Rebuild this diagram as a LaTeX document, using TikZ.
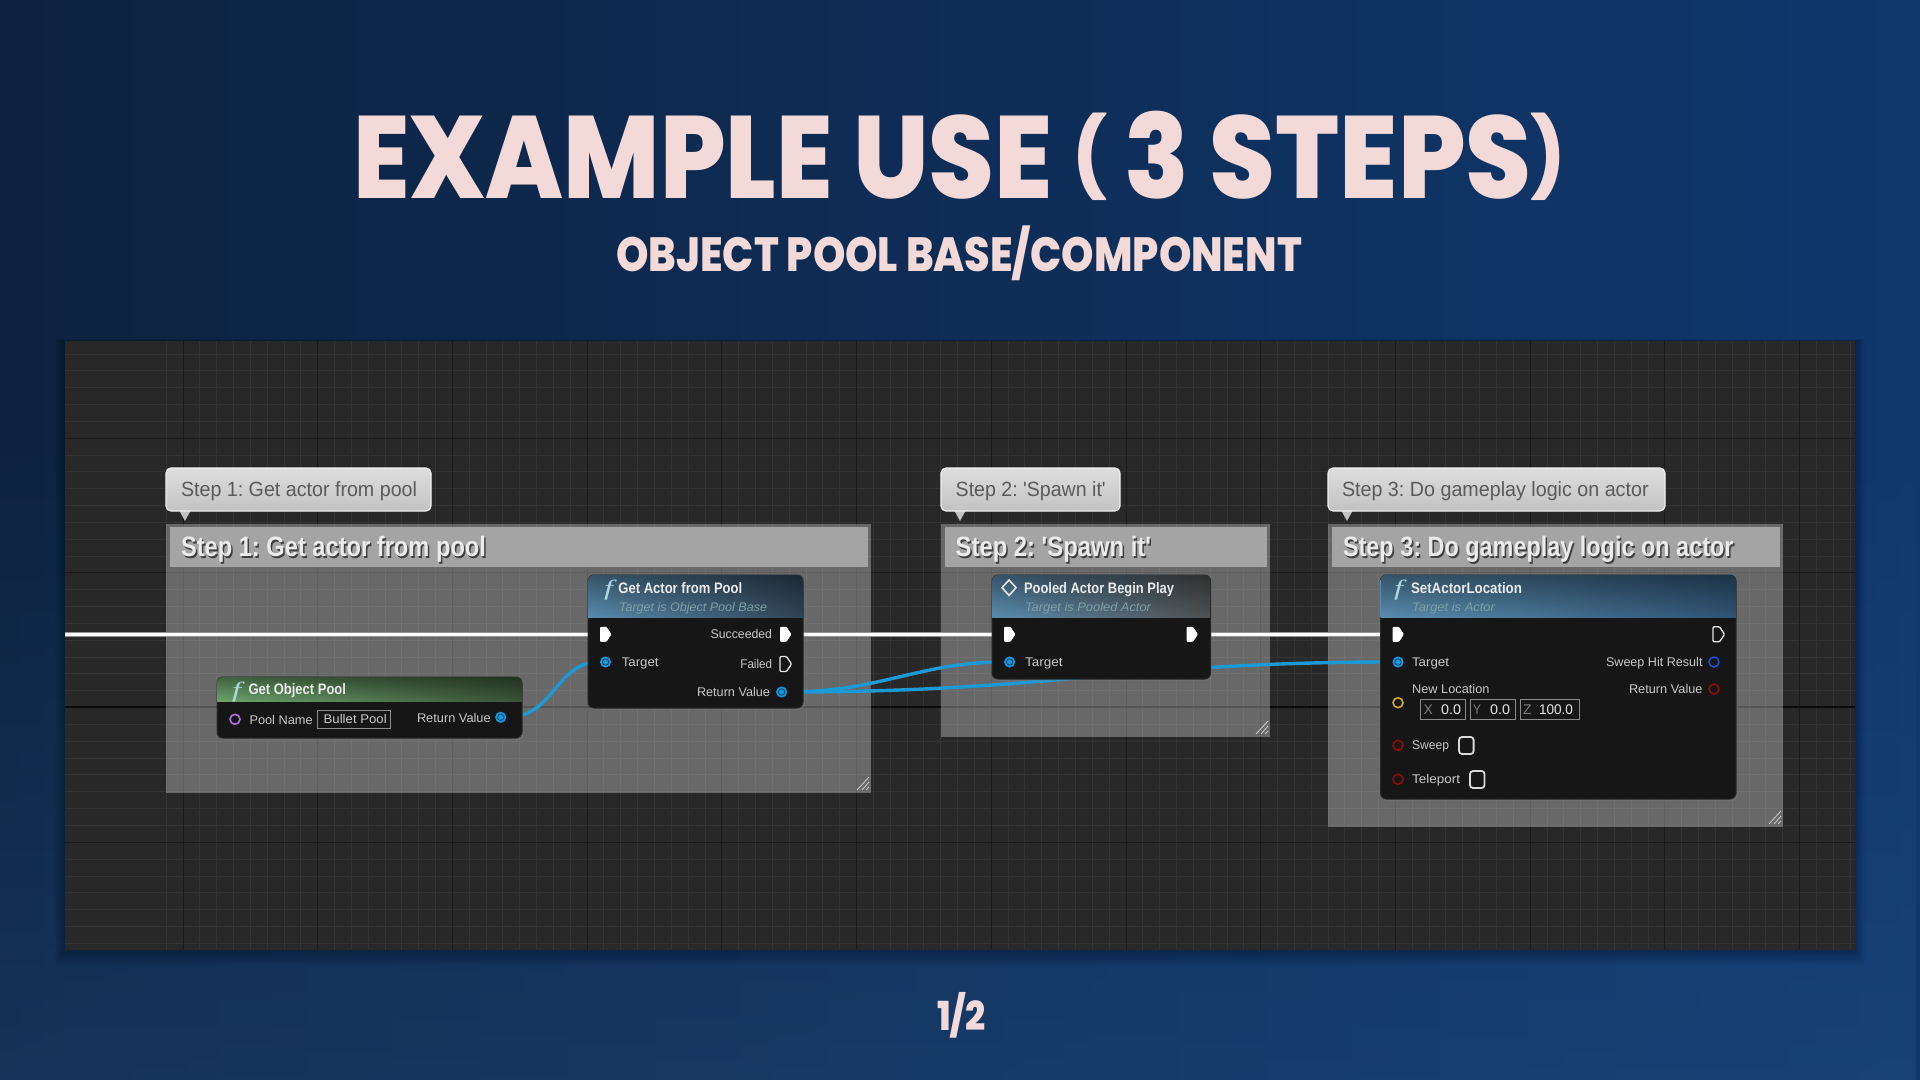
\documentclass[tikz,border=0pt]{standalone}
\usepackage{fontspec}
\usepackage{graphicx}
\usetikzlibrary{fit,fadings,shadows,calc}
\newfontfamily\uef{Liberation Sans}
\newfontfamily\ptf{Poppins}[UprightFont=* ExtraBold,BoldFont=* ExtraBold]
\newfontfamily\icf{Liberation Serif}
\newdimen\pxu \pxu=0.5pt
\definecolor{titlepink}{HTML}{F3DAD8}
\definecolor{bgA}{HTML}{0D2240}
\definecolor{bgB}{HTML}{0F386E}
\definecolor{bgC}{HTML}{2A5A90}
\definecolor{panelc}{HTML}{282828}
\definecolor{minorc}{HTML}{333333}
\definecolor{majorc}{HTML}{1A1A1A}
\definecolor{originc}{HTML}{0C0C0C}
\definecolor{bodyc}{HTML}{161616}
\definecolor{barc}{HTML}{A4A4A4}
\definecolor{pinblue}{HTML}{1496DC}
\definecolor{wireblue}{HTML}{1C9AD6}
\definecolor{pinpurple}{HTML}{B070E0}
\definecolor{pinyellow}{HTML}{D8A81C}
\definecolor{pinred}{HTML}{8A0E0E}
\definecolor{pindeep}{HTML}{1450C8}
\definecolor{labelc}{HTML}{C8C8C8}
\definecolor{subc}{HTML}{7F9FA6}
\definecolor{bubtxt}{HTML}{5A5A5A}
\definecolor{hgreenL}{HTML}{6CA46C}
\definecolor{hgreenR}{HTML}{3A5238}
\definecolor{hblueL}{HTML}{5A8CAE}
\definecolor{hblueR}{HTML}{304456}
\definecolor{hgreyR}{HTML}{505050}
\definecolor{hsetR}{HTML}{305474}
\tikzset{
  bigtitle/.style={font=\ptf\fontsize{58.5}{70}\selectfont,text=titlepink},
  subtitle/.style={font=\ptf\fontsize{24}{28}\selectfont,text=titlepink},
  pagenum/.style={font=\ptf\fontsize{20}{24}\selectfont,text=titlepink},
  bubtext/.style={font=\uef\fontsize{10.3}{12}\selectfont,text=bubtxt},
  bartext/.style={font=\uef\bfseries\fontsize{14}{16}\selectfont,text=white!92!black},
  barshadow/.style={font=\uef\bfseries\fontsize{14}{16}\selectfont,text=black!75},
  bptitle/.style={font=\uef\bfseries\fontsize{7.6}{9}\selectfont,text=white!92!black},
  bpsub/.style={font=\uef\itshape\fontsize{6.2}{7}\selectfont,text=subc},
  bplabel/.style={font=\uef\fontsize{6.3}{7}\selectfont,text=labelc},
  valtext/.style={font=\uef\fontsize{7}{8}\selectfont,text=white!90!black},
  axistext/.style={font=\uef\fontsize{7}{8}\selectfont,text=white!50!black},
  icontext/.style={font=\icf\itshape\fontsize{11}{12}\selectfont,text=white!72!cyan!90!black},
  txtnode/.style={inner sep=0,outer sep=0,anchor=base west},
  boxfit/.style={inner sep=0,outer sep=0},
  bubble/.style={boxfit,top color=white!87!black,bottom color=white!76!black,draw=white!94!black,line width=.6pt,rounded corners=2.5pt},
  groupbox/.style={boxfit,fill=white,fill opacity=.3},
  barbox/.style={boxfit,fill=barc},
  bpbody/.style={boxfit,fill=bodyc,draw=black!85,line width=.5pt,rounded corners=3pt,drop shadow={shadow xshift=.8pt,shadow yshift=-1.2pt,opacity=.3}},
  valbox/.style={boxfit,draw=white!55!black,line width=.5pt},
  checkbox/.style={boxfit,draw=white!85!black,line width=.9pt,rounded corners=1.5pt,fill=bodyc},
  blwire/.style={draw=wireblue,line width=1.7pt,line cap=round},
  exwire/.style={draw=white!58!black,line width=.45pt,double=white,double distance=1.8pt},
  handle/.style={draw=white!78!black,line width=.45pt},
  holopin/.style={circle,inner sep=0,minimum size=5pt,line width=.8pt,fill=bodyc},
}
\newcommand\tx[6]{\node[txtnode,#5] (#1) at (#2,#3) {\frenchspacing\resizebox{#4\pxu}{\height}{#6}};}
\newcommand\smp[1]{\raisebox{7.5pt}{\fontsize{39}{44}\selectfont #1}}
\newcommand\dpin[3]{%
  \node[circle,inner sep=0,minimum size=5.6pt,fill=pinblue,draw=none] (#1) at (#2,#3) {};
  \draw[black!60!pinblue,line width=.35pt] (#2,#3) circle[radius=3.2];}
\newcommand\expin[3]{%
  \coordinate (#1) at (#2,#3);
  \fill[white,rounded corners=.5pt,shift={(#2,#3)}] (-5.5,-7.5)--(1,-7.5)--(6,0)--(1,7.5)--(-5.5,7.5)--cycle;}
\newcommand\exhollow[3]{%
  \coordinate (#1) at (#2,#3);
  \draw[white!90!black,line width=.65pt,rounded corners=.5pt,fill=bodyc,shift={(#2,#3)}] (-5.5,-7.5)--(1,-7.5)--(6,0)--(1,7.5)--(-5.5,7.5)--cycle;}
\newcommand\bpnode[8]{%
  \node[bpbody,fit={(#2,#3)(#4,#5)}] (#1) {};
  \begin{scope}
    \clip[rounded corners=3pt] (#2,#3) rectangle (#4,#5);
    \shade[left color=#7,right color=#8] (#2,#3) rectangle (#4,#6);
    \fill[black,opacity=.4,path fading=south] (#2,#3) rectangle (#4,#6);
  \end{scope}}
\newcommand\grp[7]{%
  \begin{pgfonlayer}{grp}
  \node[groupbox,fit={(#2,#3)(#4,#5)}] (#1) {};
  \node[barbox,fit={(#2+3.5,#3+2.7)(#4-3.5,#3+42.7)}] (#1bar) {};
  \end{pgfonlayer}
  \draw[handle] (#4-14,#5-3)--(#4-2,#5-16) (#4-9,#5-3)--(#4-2,#5-11) (#4-5,#5-3)--(#4-2,#5-6);}
\newcommand\bub[6]{%
  \fill[white!76!black] (#2+13,#5-1)--(#2+25,#5-1)--(#2+19,#5+10)--cycle;
  \node[bubble,fit={(#2,#3)(#4,#5)}] (#1) {};}
\pgfdeclarelayer{grp}\pgfdeclarelayer{wire}
\pgfsetlayers{grp,wire,main}
\begin{document}
\begin{tikzpicture}[x=0.5pt,y=-0.5pt]
\useasboundingbox (0,0) rectangle (1920,1080);
\begin{pgfonlayer}{grp}
% page background
\shade[shading angle=80,left color=bgA,right color=bgB] (0,0) rectangle (1920,1080);
\fill[bgC,opacity=.3,path fading=north] (0,420) rectangle (1920,1080);
% panel shadow
\foreach \i in {1,...,10}{\fill[black,opacity=.025] (65-1*\i,341-.2*\i) rectangle (1855+1*\i,950+1.6*\i);}
\node[boxfit,fill=panelc,fit={(65,341)(1855,950)}] (panel) {};
\begin{scope}
\clip (65,341) rectangle (1855,950);
\foreach \i in {-1,...,106}{\draw[minorc,line width=.5pt] ({round(182.5+\i*16.84)+.5},341)--({round(182.5+\i*16.84)+.5},950);}
\foreach \i in {-6,...,31}{\draw[minorc,line width=.5pt] (65,{round(437.7+\i*16.84)+.5})--(1855,{round(437.7+\i*16.84)+.5});}
\foreach \i in {0,...,13}{\draw[majorc,line width=.8pt] ({round(182.5+\i*134.72)+.5},341)--({round(182.5+\i*134.72)+.5},950);}
\foreach \i in {0,...,3}{\draw[majorc,line width=.8pt] (65,{round(437.7+\i*134.72)+.5})--(1855,{round(437.7+\i*134.72)+.5});}
\draw[originc,line width=1pt] (65,707)--(1855,707);
\end{scope}
\end{pgfonlayer}

% titles
\tx{ttl}{353}{199}{1212}{bigtitle}{\scalebox{.97}[1]{EXAMPLE} USE \smp{(}\,3 STEPS\smp{)}}
\tx{sttl}{616}{272}{686}{subtitle}{OBJECT POOL BASE/COMPONENT}
\tx{pg}{937}{1030}{49}{pagenum}{1/2}

% comment groups
\grp{g1}{166}{524}{871}{793}{}{}
\grp{g2}{941}{524}{1270}{737}{}{}
\grp{g3}{1328}{524}{1783}{827}{}{}
\tx{g1s}{182.5}{558}{305}{barshadow}{Step 1: Get actor from pool}
\tx{g1t}{181}{556.7}{305}{bartext}{Step 1: Get actor from pool}
\tx{g2s}{957.2}{558}{195.3}{barshadow}{Step 2: 'Spawn it'}
\tx{g2t}{955.7}{556.7}{195.3}{bartext}{Step 2: 'Spawn it'}
\tx{g3s}{1344.5}{558}{390.5}{barshadow}{Step 3: Do gameplay logic on actor}
\tx{g3t}{1343}{556.7}{390.5}{bartext}{Step 3: Do gameplay logic on actor}

% comment bubbles
\bub{b1}{166}{468}{431}{511}{}
\bub{b2}{941}{468}{1120}{511}{}
\bub{b3}{1328}{468}{1665}{511}{}
\tx{b1t}{181}{496.5}{236}{bubtext}{Step 1: Get actor from pool}
\tx{b2t}{955.7}{496.5}{150}{bubtext}{Step 2: 'Spawn it'}
\tx{b3t}{1342}{496.5}{306.6}{bubtext}{Step 3: Do gameplay logic on actor}

% Get Object Pool
\bpnode{gop}{217}{677}{522}{738}{701}{hgreenL}{hgreenR}
\tx{gopf}{232}{697}{9}{icontext}{f}
\tx{gopt}{248.6}{694.8}{97.4}{bptitle}{Get Object Pool}
\node[holopin,draw=pinpurple] (gopin) at (235,719.3) {};
\tx{gopl}{249.5}{724.5}{63.2}{bplabel}{Pool Name}
\node[valbox,fit={(317.5,710.7)(390.7,728.7)}] (gopv) {};
\tx{gopvt}{323.7}{723}{63}{bplabel}{Bullet Pool}
\tx{gopr}{417}{722}{73.7}{bplabel}{Return Value}
\dpin{goret}{500.7}{717.3}

% Get Actor from Pool
\bpnode{gap}{588}{575}{803}{708}{617}{hblueL}{hblueR}
\tx{gapf}{604}{595}{9}{icontext}{f}
\tx{gapt}{618.4}{593.5}{123.9}{bptitle}{Get Actor from Pool}
\tx{gaps}{619}{611.5}{148}{bpsub}{Target is Object Pool Base}
\expin{gapin}{605.5}{634.3}
\expin{gapsuc}{785.5}{634.3}
\exhollow{gapfail}{785.5}{664}
\dpin{gaptg}{605.5}{662}
\dpin{gapret}{781.6}{692}
\tx{gapl1}{621.8}{666.5}{36.8}{bplabel}{Target}
\tx{gapl2}{710.7}{638.5}{61.3}{bplabel}{Succeeded}
\tx{gapl3}{740.4}{668.5}{31.6}{bplabel}{Failed}
\tx{gapl4}{697}{696.5}{73}{bplabel}{Return Value}

% Pooled Actor Begin Play
\bpnode{pab}{992}{575}{1210.6}{679}{617}{hblueL}{hgreyR}
\draw[white!90!black,line width=.8pt] (1009,580)--(1016,587.7)--(1009,595.4)--(1002,587.7)--cycle;
\tx{pabt}{1024}{593.5}{150}{bptitle}{Pooled Actor Begin Play}
\tx{pabs}{1025}{611.5}{126}{bpsub}{Target is Pooled Actor}
\expin{pabin}{1009.5}{634.3}
\expin{pabout}{1192}{634.3}
\dpin{pabtg}{1009.6}{662}
\tx{pabl}{1025}{666.5}{37.5}{bplabel}{Target}

% SetActorLocation
\bpnode{sal}{1380.5}{575}{1736}{799}{617}{hblueL}{hsetR}
\tx{salf}{1394}{595}{9}{icontext}{f}
\tx{salt}{1411}{593.5}{111}{bptitle}{SetActorLocation}
\tx{sals}{1412}{611.5}{83}{bpsub}{Target is Actor}
\expin{salin}{1398}{634.3}
\exhollow{salout}{1718.5}{634.3}
\dpin{saltg}{1398}{662}
\tx{sall1}{1412}{666.5}{37}{bplabel}{Target}
\tx{sall2}{1606}{666.5}{96.5}{bplabel}{Sweep Hit Result}
\node[holopin,draw=pindeep] (salhit) at (1714,662) {};
\tx{sall3}{1412}{693.8}{77.5}{bplabel}{New Location}
\tx{sall4}{1629}{693.8}{73.5}{bplabel}{Return Value}
\node[holopin,draw=pinred] (salret) at (1714,689) {};
\node[holopin,draw=pinyellow] (salloc) at (1398,702.7) {};
\node[valbox,fit={(1420.7,699.3)(1465.5,719.3)}] (valx) {};
\node[valbox,fit={(1470.6,699.3)(1515.4,719.3)}] (valy) {};
\node[valbox,fit={(1520,699.3)(1579,719.3)}] (valz) {};
\tx{xl}{1423.5}{714.5}{9.2}{axistext}{X}
\tx{xv}{1441}{714.5}{20}{valtext}{0.0}
\tx{yl}{1473}{714.5}{8}{axistext}{Y}
\tx{yv}{1490}{714.5}{20}{valtext}{0.0}
\tx{zl}{1523}{714.5}{8.5}{axistext}{Z}
\tx{zv}{1539}{714.5}{34}{valtext}{100.0}
\node[holopin,draw=pinred] (salsw) at (1398,745.3) {};
\tx{sall5}{1412}{749.8}{37}{bplabel}{Sweep}
\node[checkbox,fit={(1459,737)(1473.6,754)}] (chk1) {};
\node[holopin,draw=pinred] (saltp) at (1398,779.3) {};
\tx{sall6}{1412}{783.8}{48}{bplabel}{Teleport}
\node[checkbox,fit={(1470,771)(1484.5,788)}] (chk2) {};

% wires
\coordinate (wstart) at (65,634.3);
\begin{pgfonlayer}{wire}
\draw[exwire] (wstart) -- (gapin);
\draw[exwire] (gapsuc) -- (pabin);
\draw[exwire] (pabout) -- (salin);
\draw[blwire] (goret) .. controls (555,717.3) and (555,662) .. (gaptg);
\draw[blwire] (gapret) .. controls (880,692) and (920,662) .. (pabtg);
\draw[blwire] (gapret) .. controls (1050,692) and (1130,662) .. (saltg);
\end{pgfonlayer}
\end{tikzpicture}
\end{document}
